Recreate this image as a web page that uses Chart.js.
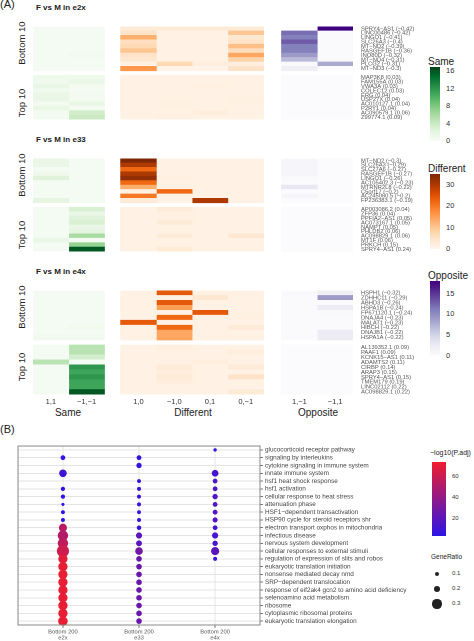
<!DOCTYPE html>
<html><head><meta charset="utf-8">
<script src="https://cdn.jsdelivr.net/npm/chart.js@4.4.0/dist/chart.umd.min.js"></script>
<style>
body{margin:0;width:474px;height:641px;position:relative;background:#fff;font-family:"Liberation Sans",Arial,sans-serif;overflow:hidden}
canvas{position:absolute}
.t{position:absolute;color:#222;white-space:nowrap}
.rot{position:absolute;transform:translate(-50%,-50%) rotate(-90deg);font-size:9.5px;color:#222;white-space:nowrap}
.bar{position:absolute;width:10px}
</style></head><body>
<div class="t" style="left:0;top:-2px;font-size:11px">(A)</div>
<div class="t" style="left:0;top:423px;font-size:11px">(B)</div>
<canvas id="h0"></canvas><canvas id="h1"></canvas><canvas id="h2"></canvas><canvas id="bub"></canvas>
<script>
// ---- panel A data ----
const colLabels = ['1,1', '\u22121,\u22121', '1,0', '\u22121,0', '0,1', '0,\u22121', '1,\u22121', '\u22121,1'];
const colGroup = [0, 0, 1, 1, 1, 1, 2, 2];
const colStart = [0, 1, 2.45, 3.45, 4.45, 5.45, 6.95, 7.95];

const genesE2x = ['SPRY4\u2212AS1 (\u22120.42)', 'LINC00486 (\u22120.42)', 'LINGO1 (\u22120.41)', 'SLC26A3 (\u22120.4)', 'MT\u2212ND2 (\u22120.39)', 'RASGEF1B (\u22120.36)', 'INO80D (\u22120.32)', 'MT\u2212ND4 (\u22120.31)', 'PLCG2 (\u22120.31)', 'MT\u2212ND3 (\u22120.3)',
  'MAP3K8 (0.03)', 'FAM155A (0.03)', 'VWA3A (0.03)', 'COLEC12 (0.03)', 'ERG (0.04)', 'USP27X (0.04)', 'AC010127.1 (0.04)', 'P2RY1 (0.04)', 'AC090579.1 (0.06)', 'Z99774.1 (0.09)'];
const genesE33 = ['MT\u2212ND2 (\u22120.3)', 'SLC26A3 (\u22120.29)', 'SLC27A6 (\u22120.27)', 'RASGEF1B (\u22120.27)', 'LINGO1 (\u22120.26)', 'AC105402.3 (\u22120.23)', 'MTRNR2L8 (\u22120.22)', 'C5orf17 (\u22120.2)', 'AC245060.5 (\u22120.2)', 'FP236383.1 (\u22120.19)',
  'AP003086.2 (0.04)', 'ZFP36 (0.04)', 'PPFIA2\u2212AS1 (0.05)', 'AC073167.1 (0.05)', 'NAMPT (0.05)', 'PHLDB2 (0.06)', 'AC098829.1 (0.06)', 'MT1F (0.06)', 'PRKCH (0.15)', 'SPRY4\u2212AS1 (0.24)'];
const genesE4x = ['HSPH1 (\u22120.32)', 'ZDHHC11 (\u22120.29)', 'ABHD3 (\u22120.26)', 'HSPA1B (\u22120.24)', 'FP671120.1 (\u22120.24)', 'DNAJA4 (\u22120.23)', 'MALAT1 (\u22120.23)', 'HIBCH (\u22120.22)', 'DNAJB1 (\u22120.22)', 'HSPA1A (\u22120.22)',
  'AL139352.1 (0.09)', 'PAAF1 (0.09)', 'KCNK15\u2212AS1 (0.11)', 'ADAMTS2 (0.11)', 'CIRBP (0.14)', 'ARAP3 (0.15)', 'SPRY4\u2212AS1 (0.15)', 'TMEM179 (0.19)', 'LINC02112 (0.22)', 'AC098829.1 (0.22)'];

// rows: [same(1,1), same(-1,-1), diff(1,0), diff(-1,0), diff(0,1), diff(0,-1), opp(1,-1), opp(-1,1)]
const valsE2x = [
  [0.3,0.3, 3,3,3,3, 0,18],
  [0.3,0.3, 5,1,1,10, 12,0.3],
  [0.3,0.3, 13,1,1,4, 11,0.3],
  [0.3,0.3, 6,1,1,5, 13,0.3],
  [0.3,0.3, 7,1,1,11, 11,0.3],
  [0.3,0.3, 10,1,1,6, 11,0.3],
  [0.3,0.6, 5,1,1,14, 9,0.3],
  [0.3,0.3, 4,1,1,8, 7,0.3],
  [0.3,0.3, 1,7,2,2, 0.5,8],
  [0.3,0.3, 16,0.5,0.5,5, 2,0],
  [1,1, 1,1,1,1, 0.2,0.2],
  [0.8,1.5, 1,1,1,1, 0.2,0.2],
  [1.5,0.5, 1,1,1.5,1, 0.2,0.2],
  [0.8,0.3, 1,1,1,1, 0.2,0.2],
  [1.5,0.5, 1,1,1,1, 0.2,0.2],
  [1.5,0.5, 1,1,1,1.5, 0.2,0.2],
  [0.5,1.5, 1,1.5,1,1, 0.2,0.2],
  [1.5,0.5, 1,1,1,1, 0.2,0.2],
  [0.5,3.5, 1,1,2,1, 0.2,0.2],
  [0.5,4, 1,1.5,1,1, 0.2,0.2]
];
const valsE33 = [
  [1.5,0.3, 35,1,1,1, 1,0.2],
  [1.5,0.3, 30,1,1,1, 1,0.2],
  [0.3,0.3, 22,1,1,1, 1,0.2],
  [1,0.3, 30,1,1,1, 1,0.2],
  [2.5,0.3, 33,1.5,1,1, 0.5,0.2],
  [0.3,0.3, 22,1,1,1, 0.2,0.2],
  [0.3,0.3, 13,1,1,1, 3,0.2],
  [0.3,0.3, 1,22,1,1, 0.2,0.2],
  [0.3,0.3, 20,1,1,1, 1,0.2],
  [2,0.3, 3,1,30,1, 0.2,0.2],
  [0.3,3, 1,3,1,1, 0.2,0.2],
  [0.3,1.5, 1,1.5,1,1, 0.2,0.2],
  [0.3,2.5, 1,1.5,1,1, 0.2,0.2],
  [0.3,3, 1,3,1,1, 0.2,0.2],
  [0.3,1.5, 1,1,1,1, 0.2,0.2],
  [0.3,2, 1,1,1,1, 0.2,0.2],
  [0.3,6, 1,3,1,4, 0.2,0.2],
  [1.5,0.3, 1,1,1,1, 0.2,0.2],
  [0.3,7, 1,1,1,1, 0.2,0.2],
  [0.3,16, 1,3,1,1, 0.2,0.2]
];
const valsE4x = [
  [0.3,0.3, 1,24,1,1, 0.5,2],
  [0.3,0.3, 1,1,4,1, 0.3,9],
  [0.3,0.3, 1,24,1,1, 0.3,0.3],
  [0.3,0.3, 1,15,1,1, 0.3,2.5],
  [0.3,0.3, 1,1,24,1, 0.3,0.5],
  [0.3,0.3, 1,22,1,1.5, 0.3,0.3],
  [0.3,0.3, 24,1,1,1, 0.3,0.3],
  [0.3,0.6, 1,22,1,3, 0.3,0.3],
  [0.3,0.3, 1,14,1,1, 0.3,2.5],
  [0.6,0.6, 1,14,1,1, 0.3,2.5],
  [0.3,5, 1,2,1,1, 0.2,0.2],
  [0.3,5, 1,1,1,2, 0.2,0.2],
  [0.3,3.5, 1,1,1,1, 0.2,0.2],
  [5,0.3, 1,1,2,1, 0.2,0.2],
  [0.3,12, 1,3,1,3, 0.2,0.2],
  [0.3,11, 1,2,1,1, 0.2,0.2],
  [0.3,12, 1,3,1,5, 0.2,0.2],
  [0.3,11, 1,2,1,1, 0.2,0.2],
  [0.3,11, 1,1,1,1, 0.2,0.2],
  [0.3,16, 1,1,1,3, 0.2,0.2]
];

// ---- panel B data ----
const terms = ['glucocorticoid receptor pathway', 'signaling by interleukins', 'cytokine signaling in immune system', 'innate immune system', 'hsf1 heat shock response', 'hsf1 activation', 'cellular response to heat stress', 'attenuation phase', 'HSF1\u2212dependent transactivation', 'HSP90 cycle for steroid receptors shr', 'electron transport oxphos in mitochondria', 'infectious disease', 'nervous system development', 'cellular responses to external stimuli', 'regulation of expression of slits and robos', 'eukaryotic translation initiation', 'nonsense mediated decay nmd', 'SRP\u2212dependent translocation', 'response of eif2ak4 gcn2 to amino acid deficiency', 'selenoamino acid metabolism', 'ribosome', 'cytoplasmic ribosomal proteins', 'eukaryotic translation elongation'];
const bubCols = [['Bottom 200', 'e2x'], ['Bottom 200', 'e33'], ['Bottom 200', 'e4x']];
const ratioE2x = [null, 0.1, null, 0.2, null, 0.08, 0.08, 0.04, 0.07, 0.07, 0.22, 0.3, 0.3, 0.36, 0.26, 0.26, 0.26, 0.26, 0.26, 0.26, 0.26, 0.26, 0.27];
const padjE2x  = [null, 5, null, 10, null, 5, 5, 5, 5, 5, 55, 52, 57, 62, 70, 72, 72, 72, 72, 72, 72, 72, 72];
const ratioE33 = [null, 0.1, 0.12, null, 0.07, 0.07, 0.07, 0.07, 0.07, 0.07, 0.09, 0.15, 0.14, 0.2, 0.13, 0.13, 0.13, 0.13, 0.13, 0.13, 0.13, 0.13, 0.13];
const padjE33  = [null, 6, 6, null, 8, 8, 8, 8, 8, 8, 10, 20, 20, 28, 26, 26, 26, 26, 26, 26, 26, 26, 26];
const ratioE4x = [0.05, null, null, 0.17, 0.1, 0.1, 0.12, 0.1, 0.1, 0.11, 0.1, 0.15, 0.12, 0.22, 0.07, null, null, null, null, null, null, null, null];
const padjE4x  = [5, null, null, 12, 16, 16, 16, 16, 16, 18, 12, 12, 14, 20, 8, null, null, null, null, null, null, null, null];

// ---- colour helpers ----
const greens = ['#f7fcf5','#e5f5e0','#c7e9c0','#a1d99b','#74c476','#41ab5d','#238b45','#006d2c','#00441b'];
const oranges = ['#fff5eb','#fee6ce','#fdd0a2','#fdae6b','#fd8d3c','#f16913','#d94801','#a63603','#7f2704'];
const purples = ['#fcfbfd','#efedf5','#dadaeb','#bcbddc','#9e9ac8','#807dba','#6a51a3','#54278f','#3f007d'];
const palettes = [[greens, 17], [oranges, 35], [purples, 18]];
function hex(h){return [1,3,5].map(i=>parseInt(h.substr(i,2),16));}
function ramp(pal, t){
  t = Math.max(0, Math.min(1, t)) * (pal.length - 1);
  const i = Math.min(Math.floor(t), pal.length - 2), f = t - i;
  const a = hex(pal[i]), b = hex(pal[i+1]);
  return 'rgb(' + a.map((v,k)=>Math.round(v+(b[k]-v)*f)).join(',') + ')';
}
const pcolA = [44, 20, 230], pcolB = [240, 30, 45];
function pcol(v){
  const t = Math.max(0, Math.min(1, (v - 3) / 72));
  return 'rgb(' + pcolA.map((c,k)=>Math.round(c+(pcolB[k]-c)*t)).join(',') + ')';
}
const F = '"Liberation Sans", Arial, sans-serif';

function place(id, l, t, w, h){
  const c = document.getElementById(id);
  c.style.left = l + 'px'; c.style.top = t + 'px';
  c.width = w; c.height = h;
  return c;
}
function txt(s, l, t, css){
  const d = document.createElement('div'); d.className = 't'; d.textContent = s;
  d.style.left = l + 'px'; d.style.top = t + 'px'; d.style.cssText += css || ''; document.body.appendChild(d); return d;
}

// ---- heatmaps ----
function heat(id, top, genes, vals, showX){
  const rows = genes.slice(0, 10).concat([''], genes.slice(10));
  const v = vals.slice(0, 10).concat([null], vals.slice(10));
  const h = 116 + (showX ? 11 : 0);
  const c = place(id, 33, top, 382, h);
  const datasets = colLabels.map((lab, j) => ({
    data: rows.map((g, i) => v[i] ? [colStart[j], colStart[j] + 1] : null),
    backgroundColor: v.map(r => r ? ramp(palettes[colGroup[j]][0], r[j] / palettes[colGroup[j]][1]) : 'transparent'),
    categoryPercentage: 1, barPercentage: 1, borderWidth: 0, grouped: false
  }));
  new Chart(c, {
    type: 'bar',
    data: { labels: rows, datasets },
    options: {
      indexAxis: 'y', responsive: false, animation: false, devicePixelRatio: 2,
      layout: { padding: 0 },
      plugins: { legend: { display: false }, tooltip: { enabled: false } },
      scales: {
        x: { type: 'linear', min: 0, max: 8.95, display: showX,
             grid: { display: false, drawTicks: false }, border: { display: false },
             afterBuildTicks: ax => { ax.ticks = colStart.map(s => ({ value: s + 0.5 })); },
             afterFit: ax => { ax.height = 11; },
             ticks: { autoSkip: false, maxRotation: 0, padding: 3, font: { family: F, size: 7.5 }, color: '#333',
                      callback: (val, i) => colLabels[i] } },
        y: { position: 'right', grid: { display: false, drawTicks: false }, border: { display: false },
             afterFit: ax => { ax.width = 62; },
             ticks: { autoSkip: false, padding: 8, font: { family: F, size: 5.8 }, color: '#555' } }
      }
    }
  });
}
heat('h0', 15, genesE2x, valsE2x, false);
heat('h1', 147, genesE33, valsE33, false);
heat('h2', 279, genesE4x, valsE4x, true);

[['F vs M in e2x', 3], ['F vs M in e33', 135], ['F vs M in e4x', 267]].forEach((a, k) => {
  txt(a[0], 36, a[1], 'font-size:8px;font-weight:bold');
  const top = [15, 147, 279][k];
  ['Bottom 10', 'Top 10'].forEach((s, j) => {
    const d = document.createElement('div'); d.className = 'rot'; d.textContent = s;
    d.style.left = '21px'; d.style.top = (top + 28 + j * 60) + 'px'; document.body.appendChild(d);
  });
});
[['Same', 68], ['Different', 193], ['Opposite', 318]].forEach(a => {
  txt(a[0], a[1], 407, 'font-size:10px;transform:translateX(-50%)');
});

// colour bars
function cbar(title, pal, max, ticks, tTop, bTop, bH){
  txt(title, 428, tTop, 'font-size:10px');
  const b = document.createElement('div'); b.className = 'bar';
  b.style.left = '430px'; b.style.top = bTop + 'px'; b.style.height = bH + 'px';
  b.style.background = 'linear-gradient(to top,' + pal.join(',') + ')';
  document.body.appendChild(b);
  ticks.forEach(v => { txt(String(v), 446, bTop + bH - v / max * bH - 5, 'font-size:7.5px;color:#333'); });
}
cbar('Same', greens, 17, [0, 4, 8, 12, 16], 56, 67, 74);
cbar('Different', oranges, 35, [0, 10, 20, 30], 163, 174, 75);
cbar('Opposite', purples, 18, [0, 5, 10, 15], 270, 281, 75);

// ---- panel B bubble chart ----
const bc = place('bub', 12, 440, 398, 201);
const rr = g => 1 + g * 14;
const bsets = [[ratioE2x, padjE2x], [ratioE33, padjE33], [ratioE4x, padjE4x]].map((s, k) => ({
  data: terms.map((t, i) => s[0][i] == null ? null : { x: k + 1, y: i, r: rr(s[0][i]) }).filter(p => p),
  backgroundColor: terms.map((t, i) => s[1][i]).filter(v => v != null).map(pcol),
  borderWidth: 0
}));
new Chart(bc, {
  type: 'bubble',
  data: { datasets: bsets },
  options: {
    responsive: false, animation: false, devicePixelRatio: 2, clip: false,
    layout: { padding: 0 },
    plugins: { legend: { display: false }, tooltip: { enabled: false } },
    scales: {
      x: { type: 'linear', min: 0.41, max: 3.59,
           grid: { color: '#e4e4e4', tickLength: 3, tickColor: '#777' }, border: { color: '#888' },
           afterBuildTicks: ax => { ax.ticks = [1, 2, 3].map(v => ({ value: v })); },
           afterFit: ax => { ax.height = 16; },
           ticks: { padding: 1, font: { family: F, size: 5.8, lineHeight: 1.05 }, color: '#555', callback: (v, i) => bubCols[i] } },
      y: { type: 'linear', min: -0.5, max: 22.5, reverse: true, position: 'right',
           grid: { color: '#e4e4e4', tickLength: 3, tickColor: '#777' }, border: { color: '#888' },
           afterBuildTicks: ax => { ax.ticks = terms.map((t, i) => ({ value: i })); },
           afterFit: ax => { ax.width = 150; },
           ticks: { autoSkip: false, padding: 2, font: { family: F, size: 6.4 }, color: '#444', callback: (v, i) => terms[i] } }
    }
  },
  plugins: [{ id: 'box', afterDraw(ch) {
    const a = ch.chartArea, x = ch.ctx; x.save(); x.strokeStyle = '#888'; x.lineWidth = 1;
    x.strokeRect(a.left, a.top, a.right - a.left, a.bottom - a.top); x.restore(); } }]
});

// panel B legends
txt('\u2212log10(P.adj)', 430, 449, 'font-size:7px');
const pb = document.createElement('div'); pb.className = 'bar';
pb.style.cssText += 'left:432px;top:462px;width:14px;height:74px;background:linear-gradient(to top,' + pcol(3) + ',' + pcol(39) + ',' + pcol(75) + ')';
document.body.appendChild(pb);
[20, 40, 60].forEach(v => txt(String(v), 452, 462 + 74 - (v - 3) / 72 * 74 - 4, 'font-size:6px;color:#333'));
txt('GeneRatio', 431, 553, 'font-size:6.5px');
[0.1, 0.2, 0.3].forEach((g, i) => {
  const r = rr(g) * 0.9, cy = 574 + i * 15;
  const d = document.createElement('div');
  d.style.cssText = 'position:absolute;border-radius:50%;background:#222;left:' + (437 - r) + 'px;top:' + (cy - r) + 'px;width:' + (2 * r) + 'px;height:' + (2 * r) + 'px';
  document.body.appendChild(d);
  txt(String(g), 452, cy - 4, 'font-size:6px;color:#333');
});
</script>
</body></html>
